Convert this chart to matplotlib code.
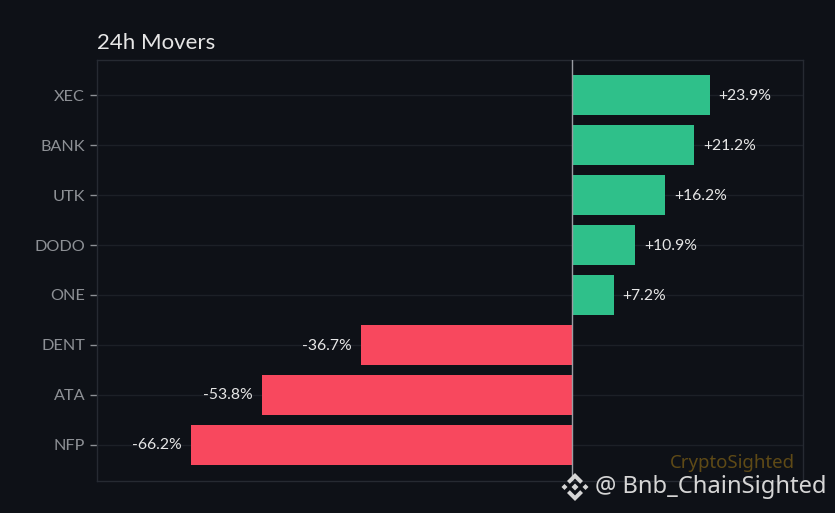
import numpy as np
import matplotlib
matplotlib.use('Agg')
import matplotlib.pyplot as plt
from matplotlib.patches import Polygon

plt.rcParams['font.family'] = ['Lato', 'DejaVu Sans']

coins = ['XEC', 'BANK', 'UTK', 'DODO', 'ONE', 'DENT', 'ATA', 'NFP']
changes = [23.9, 21.2, 16.2, 10.9, 7.2, -36.7, -53.8, -66.2]

bg = '#0e1117'
green = '#2fc08a'
red = '#f8485e'

W, H = 835, 513


def add_logo_piece(points, cx, cy, scale):
    # points are in logo units, y pointing down, centre of the logo at 0,0
    xy = [((cx + px * scale) / W, 1 - (cy + py * scale) / H) for px, py in points]
    fig.add_artist(Polygon(xy, closed=True, facecolor='#d6d6d6', edgecolor='none',
                           transform=fig.transFigure, zorder=10))


fig = plt.figure(figsize=(8.35, 5.13), dpi=100, facecolor=bg)
ax = fig.add_axes([97 / W, 1 - 481 / H, 706 / W, 421 / H], facecolor=bg)

y = np.arange(len(coins))
colors = [green if c > 0 else red for c in changes]
ax.barh(y, changes, height=0.8, color=colors, zorder=3)
ax.axvline(0, color='#9a9da3', lw=1, zorder=4)

ax.set_ylim(7.73, -0.71)
ax.set_xlim(-82.5, 40.1)
ax.set_yticks(y)
ax.set_yticklabels(coins)
ax.set_xticks([])
ax.tick_params(axis='y', colors='#8d9095', labelsize=11.7, length=5, width=1, pad=3.5)
ax.grid(axis='y', color='#1c2027', lw=1, zorder=0)

for side in ax.spines.values():
    side.set_color('#262a32')
    side.set_linewidth(1)

for i, c in enumerate(changes):
    label = f'{c:+.1f}%'
    if c > 0:
        ax.annotate(label, (c, i), xytext=(6.5, -0.5), textcoords='offset points',
                    color='#e6e6e6', fontsize=11.3, va='center', ha='left')
    else:
        ax.annotate(label, (c, i), xytext=(-6.5, -0.5), textcoords='offset points',
                    color='#e6e6e6', fontsize=11.3, va='center', ha='right')

fig.text(97 / W, 1 - 43 / H, '24h Movers', color='#e6e6e6', fontsize=16, va='center')
fig.text(670 / W, 1 - 463 / H, 'CryptoSighted', color='#5f4a16', fontsize=13.4, va='center',
         family=['Noto Sans', 'DejaVu Sans'])
fig.text(595 / W, 1 - 487 / H, '@ Bnb_ChainSighted', color='#d6d6d6', fontsize=17.1, va='center',
         family=['Noto Sans', 'DejaVu Sans'])

# binance style logo next to the handle
logo_parts = [
    [(0, -3.5), (3.5, 0), (0, 3.5), (-3.5, 0)],
    [(-13.5, 0), (-10.5, -3), (-7.5, 0), (-10.5, 3)],
    [(13.5, 0), (10.5, -3), (7.5, 0), (10.5, 3)],
    [(0, -14), (8, -6), (5.2, -3.2), (0, -8.4), (-5.2, -3.2), (-8, -6)],
    [(0, 14), (8, 6), (5.2, 3.2), (0, 8.4), (-5.2, 3.2), (-8, 6)],
]
for part in logo_parts:
    add_logo_piece(part, 575, 487, 1.0)

fig.savefig('out.png', dpi=100, facecolor=bg)
